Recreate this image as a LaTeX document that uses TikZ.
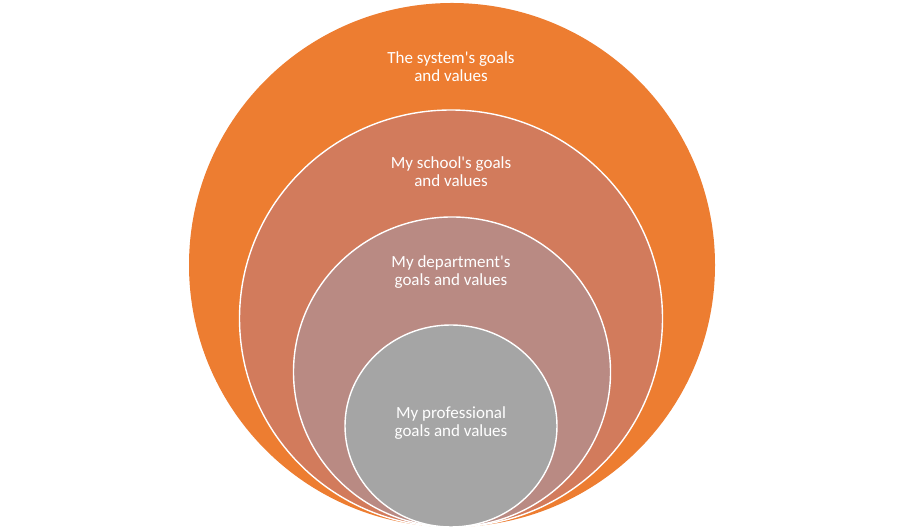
\documentclass[tikz,border=0pt]{standalone}
\usepackage{fontspec}
\setmainfont{Carlito}
\usepackage{xcolor}
\usetikzlibrary{positioning, shapes.geometric}

\definecolor{sysorange}{HTML}{ED7D31}
\definecolor{schoolred}{HTML}{D27B5C}
\definecolor{deptrose}{HTML}{B98A83}
\definecolor{profgrey}{HTML}{A5A5A5}

\begin{document}
\begin{tikzpicture}[
    x=1pt, y=1pt,
    ring/.style={
        ellipse,
        draw=white,
        line width=1.4pt,
        inner sep=0pt
    },
    label text/.style={
        text=white,
        align=center,
        font=\fontsize{17}{18}\selectfont
    }
]

\useasboundingbox (0,0) rectangle (902,529);

% Nested rings (all touching at the bottom)

\node[ring, draw=none, fill=sysorange, minimum width=526pt, minimum height=524pt] (system) at (452,264) {};

\node[ring, fill=schoolred, minimum width=423pt, minimum height=417pt] (school) at (451,210.5) {};

\node[ring, fill=deptrose, minimum width=317pt, minimum height=310pt] (dept) at (452,157) {};

\node[ring, fill=profgrey, minimum width=212pt, minimum height=202pt] (prof) at (451,103) {};

% Labels

\node[label text] (systemtext) at (451,462) {The system\textquotesingle s goals\\and values};

\node[label text] (schooltext) at (451,357) {My school\textquotesingle s goals\\and values};

\node[label text] (depttext) at (451,257) {My department\textquotesingle s\\goals and values};

\node[label text] (proftext) at (451,106) {My professional\\goals and values};

\end{tikzpicture}
\end{document}
